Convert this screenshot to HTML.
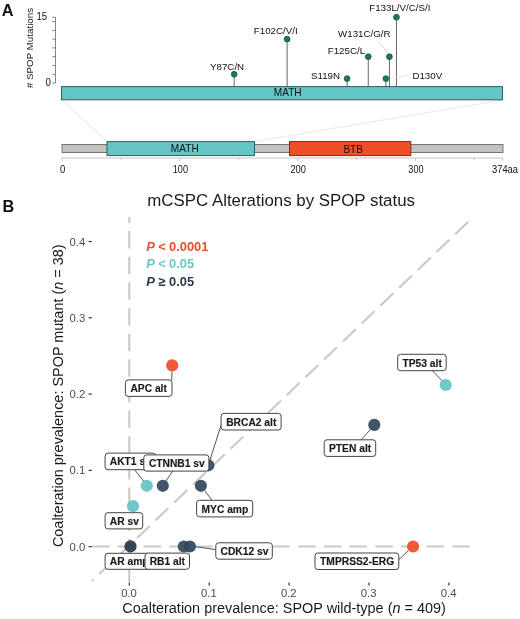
<!DOCTYPE html>
<html><head><meta charset="utf-8"><title>SPOP figure</title>
<style>
html,body{margin:0;padding:0;background:#fff;}
svg{display:block;font-family:"Liberation Sans",Arial,sans-serif;}
.lab{font-size:10.25px;font-weight:bold;fill:#1a1a1a;stroke:#1a1a1a;stroke-width:0.15;}
.box{fill:#fff;stroke:#444;stroke-width:1;}
.con{stroke:#555;stroke-width:1;fill:none;}
.ax{font-size:11.3px;fill:#4d4d4d;}
.tk{stroke:#333;stroke-width:1.2;}
.dash{stroke:#c9c9c9;stroke-width:2.1;fill:none;stroke-dasharray:17.5 8.15;}
.pa{font-size:9.75px;fill:#111;}
.tl{font-size:10.4px;fill:#111;}
.dom{font-size:10.1px;fill:#111;}
.stem{stroke:#555;stroke-width:0.9;}
.lol{fill:#1d7a49;stroke:#155c37;stroke-width:0.8;}
</style></head><body>
<svg width="520" height="619" viewBox="0 0 520 619">
<rect width="520" height="619" fill="#fff"/>

<text x="1.8" y="16.4" font-size="16.3" font-weight="bold" fill="#111">A</text>
<text transform="translate(32.9,48) rotate(-90)" text-anchor="middle" font-size="9.75" fill="#222"># SPOP Mutations</text>
<g stroke="#666" stroke-width="0.8" fill="none">
<path d="M55.5 17.2V83"/>
<path d="M52.3 83.00H55.5"/>
<path d="M52.3 74.23H55.5"/>
<path d="M52.3 65.45H55.5"/>
<path d="M52.3 56.68H55.5"/>
<path d="M52.3 47.90H55.5"/>
<path d="M52.3 39.13H55.5"/>
<path d="M52.3 30.36H55.5"/>
<path d="M52.3 21.58H55.5"/>
<path d="M52.3 17.20H55.5"/>
</g>
<text x="36.5" y="19.6" class="tl" textLength="10.6" lengthAdjust="spacingAndGlyphs">15</text>
<text x="45.4" y="85.8" class="tl" textLength="5.4" lengthAdjust="spacingAndGlyphs">0</text>
<path d="M61.5 100L107 141.5" stroke="#e0dcd8" stroke-width="0.8"/>
<path d="M502.5 100L254.5 141.5" stroke="#dde2dc" stroke-width="0.8"/>
<path class="stem" d="M234.20 74.23V87"/>
<path class="stem" d="M287.11 39.13V87"/>
<path class="stem" d="M347.08 78.61V87"/>
<path class="stem" d="M368.25 56.68V87"/>
<path class="stem" d="M385.88 78.61V87"/>
<path class="stem" d="M389.41 56.68V87"/>
<path class="stem" d="M396.46 17.20V87"/>
<path d="M377.5 40.5L388 53" stroke="#ccc" stroke-width="0.8"/>
<path d="M408 75.3L391 78.4" stroke="#ddd" stroke-width="0.8"/>
<circle class="lol" cx="234.20" cy="74.23" r="2.9"/>
<circle class="lol" cx="287.11" cy="39.13" r="2.9"/>
<circle class="lol" cx="347.08" cy="78.61" r="2.9"/>
<circle class="lol" cx="368.25" cy="56.68" r="2.9"/>
<circle class="lol" cx="385.88" cy="78.61" r="2.9"/>
<circle class="lol" cx="389.41" cy="56.68" r="2.9"/>
<circle class="lol" cx="396.46" cy="17.20" r="2.9"/>
<rect x="61.5" y="86.6" width="441" height="13.2" fill="#63c5c4" stroke="#2f5f60" stroke-width="1"/>
<text x="273.8" y="96.4" class="dom">MATH</text>
<text x="210" y="70.3" class="pa">Y87C/N</text>
<text x="253.8" y="33.8" class="pa">F102C/V/I</text>
<text x="369.2" y="10.5" class="pa">F133L/V/C/S/I</text>
<text x="338" y="37" class="pa">W131C/G/R</text>
<text x="327.7" y="54.3" class="pa">F125C/L</text>
<text x="311" y="79" class="pa">S119N</text>
<text x="412.4" y="79" class="pa">D130V</text>
<rect x="62" y="144.5" width="441" height="8" fill="#c2c3be" stroke="#6a6a6a" stroke-width="0.9"/>
<rect x="107" y="141.6" width="147.5" height="14" fill="#63c5c4" stroke="#2f5f60" stroke-width="1"/>
<rect x="289.5" y="141.6" width="121.3" height="14" fill="#ee4f27" stroke="#8a2a12" stroke-width="1"/>
<text x="184.8" y="152.4" text-anchor="middle" class="dom">MATH</text>
<text x="353.2" y="152.6" text-anchor="middle" class="dom">BTB</text>
<g stroke="#bdbdbd" stroke-width="0.9" fill="none">
<path d="M62 158H502.5"/>
<path d="M62.00 158V161"/>
<path d="M179.78 158V161"/>
<path d="M297.56 158V161"/>
<path d="M415.34 158V161"/>
<path d="M502.50 158V161"/>
<path d="M120.89 158V160.2"/>
<path d="M238.67 158V160.2"/>
<path d="M356.45 158V160.2"/>
<path d="M474.23 158V160.2"/>
</g>
<text x="59.95" y="173.2" class="tl" textLength="5.3" lengthAdjust="spacingAndGlyphs">0</text>
<text x="172.78" y="173.2" class="tl" textLength="15.2" lengthAdjust="spacingAndGlyphs">100</text>
<text x="290.41" y="173.2" class="tl" textLength="15.5" lengthAdjust="spacingAndGlyphs">200</text>
<text x="408.34" y="173.2" class="tl" textLength="15.2" lengthAdjust="spacingAndGlyphs">300</text>
<text x="492" y="173.2" class="tl" textLength="26" lengthAdjust="spacingAndGlyphs">374aa</text>
<text x="2.4" y="212.3" font-size="16.3" font-weight="bold" fill="#111">B</text>
<text x="147.3" y="206.2" font-size="16.87" fill="#1a1a1a">mCSPC Alterations by SPOP status</text>
<path class="dash" d="M129.3 582V217"/>
<path class="dash" style="stroke-dasharray:17.6 8.15" d="M92 546.5H470.6"/>
<path class="dash" style="stroke-dasharray:17.9 8" d="M468.2 221.8L91.8 581.26"/>
<path class="tk" d="M88.6 546.60H91.8"/>
<text class="ax" x="85.2" y="550.70" text-anchor="end">0.0</text>
<path class="tk" d="M129.30 582.6V585.6"/>
<text class="ax" x="129.00" y="597" text-anchor="middle">0.0</text>
<path class="tk" d="M88.6 470.33H91.8"/>
<text class="ax" x="85.2" y="474.43" text-anchor="end">0.1</text>
<path class="tk" d="M209.20 582.6V585.6"/>
<text class="ax" x="208.90" y="597" text-anchor="middle">0.1</text>
<path class="tk" d="M88.6 394.06H91.8"/>
<text class="ax" x="85.2" y="398.16" text-anchor="end">0.2</text>
<path class="tk" d="M289.10 582.6V585.6"/>
<text class="ax" x="288.80" y="597" text-anchor="middle">0.2</text>
<path class="tk" d="M88.6 317.79H91.8"/>
<text class="ax" x="85.2" y="321.89" text-anchor="end">0.3</text>
<path class="tk" d="M369.00 582.6V585.6"/>
<text class="ax" x="368.70" y="597" text-anchor="middle">0.3</text>
<path class="tk" d="M88.6 241.52H91.8"/>
<text class="ax" x="85.2" y="245.62" text-anchor="end">0.4</text>
<path class="tk" d="M448.90 582.6V585.6"/>
<text class="ax" x="448.60" y="597" text-anchor="middle">0.4</text>
<text x="122.3" y="613.1" font-size="14.45" fill="#1a1a1a">Coalteration prevalence: SPOP wild-type (<tspan font-style="italic">n</tspan> = 409)</text>
<text transform="translate(62.8,547.1) rotate(-90)" font-size="14.45" fill="#1a1a1a">Coalteration prevalence: SPOP mutant (<tspan font-style="italic">n</tspan> = 38)</text>
<text y="250.7" font-size="12.9" font-weight="bold" fill="#e8502a"><tspan x="146.2" font-style="italic">P</tspan><tspan x="158.3">&lt;</tspan><tspan x="169">0.0001</tspan></text>
<text y="268.4" font-size="12.9" font-weight="bold" fill="#6cc6c6"><tspan x="146.2" font-style="italic">P</tspan><tspan x="158.3">&lt;</tspan><tspan x="169">0.05</tspan></text>
<text y="286" font-size="12.9" font-weight="bold" fill="#2c3849"><tspan x="146.2" font-style="italic">P</tspan><tspan x="158.3">≥</tspan><tspan x="169">0.05</tspan></text>
<circle cx="172.2" cy="365.4" r="6.1" fill="#ee4f27" fill-opacity="0.93"/>
<circle cx="445.7" cy="385" r="6.1" fill="#63c5c4" fill-opacity="0.93"/>
<circle cx="374.3" cy="424.9" r="6.1" fill="#34475c" fill-opacity="0.93"/>
<circle cx="413.1" cy="546.5" r="6.1" fill="#ee4f27" fill-opacity="0.93"/>
<circle cx="208.3" cy="465.3" r="6.1" fill="#34475c" fill-opacity="0.93"/>
<circle cx="200.9" cy="485.8" r="6.1" fill="#34475c" fill-opacity="0.93"/>
<circle cx="162.8" cy="485.8" r="6.1" fill="#34475c" fill-opacity="0.93"/>
<circle cx="146.8" cy="485.8" r="6.1" fill="#63c5c4" fill-opacity="0.93"/>
<circle cx="133" cy="506.1" r="6.1" fill="#63c5c4" fill-opacity="0.93"/>
<circle cx="130.5" cy="546.4" r="6.1" fill="#27384b" fill-opacity="0.93"/>
<circle cx="183.8" cy="546.5" r="6.1" fill="#34475c" fill-opacity="0.93"/>
<circle cx="189.9" cy="546.5" r="6.1" fill="#34475c" fill-opacity="0.93"/>
<path class="con" d="M172 371.5L171.7 380"/>
<path class="con" d="M432.3 370.7L442 380.6"/>
<path class="con" d="M370.4 429.6L361.2 439.7"/>
<path class="con" d="M398.8 559.6L408.3 550.8"/>
<path class="con" d="M221.3 424.5L210 460"/>
<path class="con" d="M204.4 490.2L212 500.3"/>
<path class="con" d="M172.7 471L165.8 481.3"/>
<path class="con" d="M134.6 469.7L143.8 481.3"/>
<path class="con" d="M195.8 546.8L215.8 549.6"/>
<rect class="box" x="125.4" y="379.9" width="46.6" height="16.5" rx="2.8"/>
<text class="lab" x="130.4" y="392.3">APC alt</text>
<rect class="box" x="397.7" y="354.3" width="48.5" height="16.4" rx="2.8"/>
<text class="lab" x="402.5" y="366.6">TP53 alt</text>
<rect class="box" x="324.2" y="439.8" width="51.5" height="16.6" rx="2.8"/>
<text class="lab" x="329" y="452.3">PTEN alt</text>
<rect class="box" x="315" y="553" width="83.8" height="16.5" rx="2.8"/>
<text class="lab" x="320.1" y="565">TMPRSS2-ERG</text>
<rect class="box" x="221.1" y="413.4" width="60.0" height="16.6" rx="2.8"/>
<text class="lab" x="226.2" y="425.5">BRCA2 alt</text>
<rect class="box" x="196.6" y="500.3" width="56.1" height="16.6" rx="2.8"/>
<text class="lab" x="201.5" y="512.8">MYC amp</text>
<rect class="box" x="215.8" y="542.8" width="56.5" height="16.4" rx="2.8"/>
<text class="lab" x="220.5" y="555.1">CDK12 sv</text>
<rect class="box" x="105.1" y="453.1" width="50.4" height="16.6" rx="2.8"/>
<text class="lab" x="109.8" y="465.1">AKT1 sv</text>
<rect class="box" x="143.8" y="454.9" width="65.1" height="16.2" rx="2.8"/>
<text class="lab" x="148.9" y="467">CTNNB1 sv</text>
<rect class="box" x="105.1" y="512.7" width="37.6" height="16.2" rx="2.8"/>
<text class="lab" x="109.8" y="524.9">AR sv</text>
<rect class="box" x="105.1" y="553.3" width="45.4" height="16.0" rx="2.8"/>
<text class="lab" x="109.8" y="565.1">AR amp</text>
<rect class="box" x="145" y="553.1" width="44.5" height="16.2" rx="2.8"/>
<text class="lab" x="149.7" y="564.8">RB1 alt</text>
</svg></body></html>
